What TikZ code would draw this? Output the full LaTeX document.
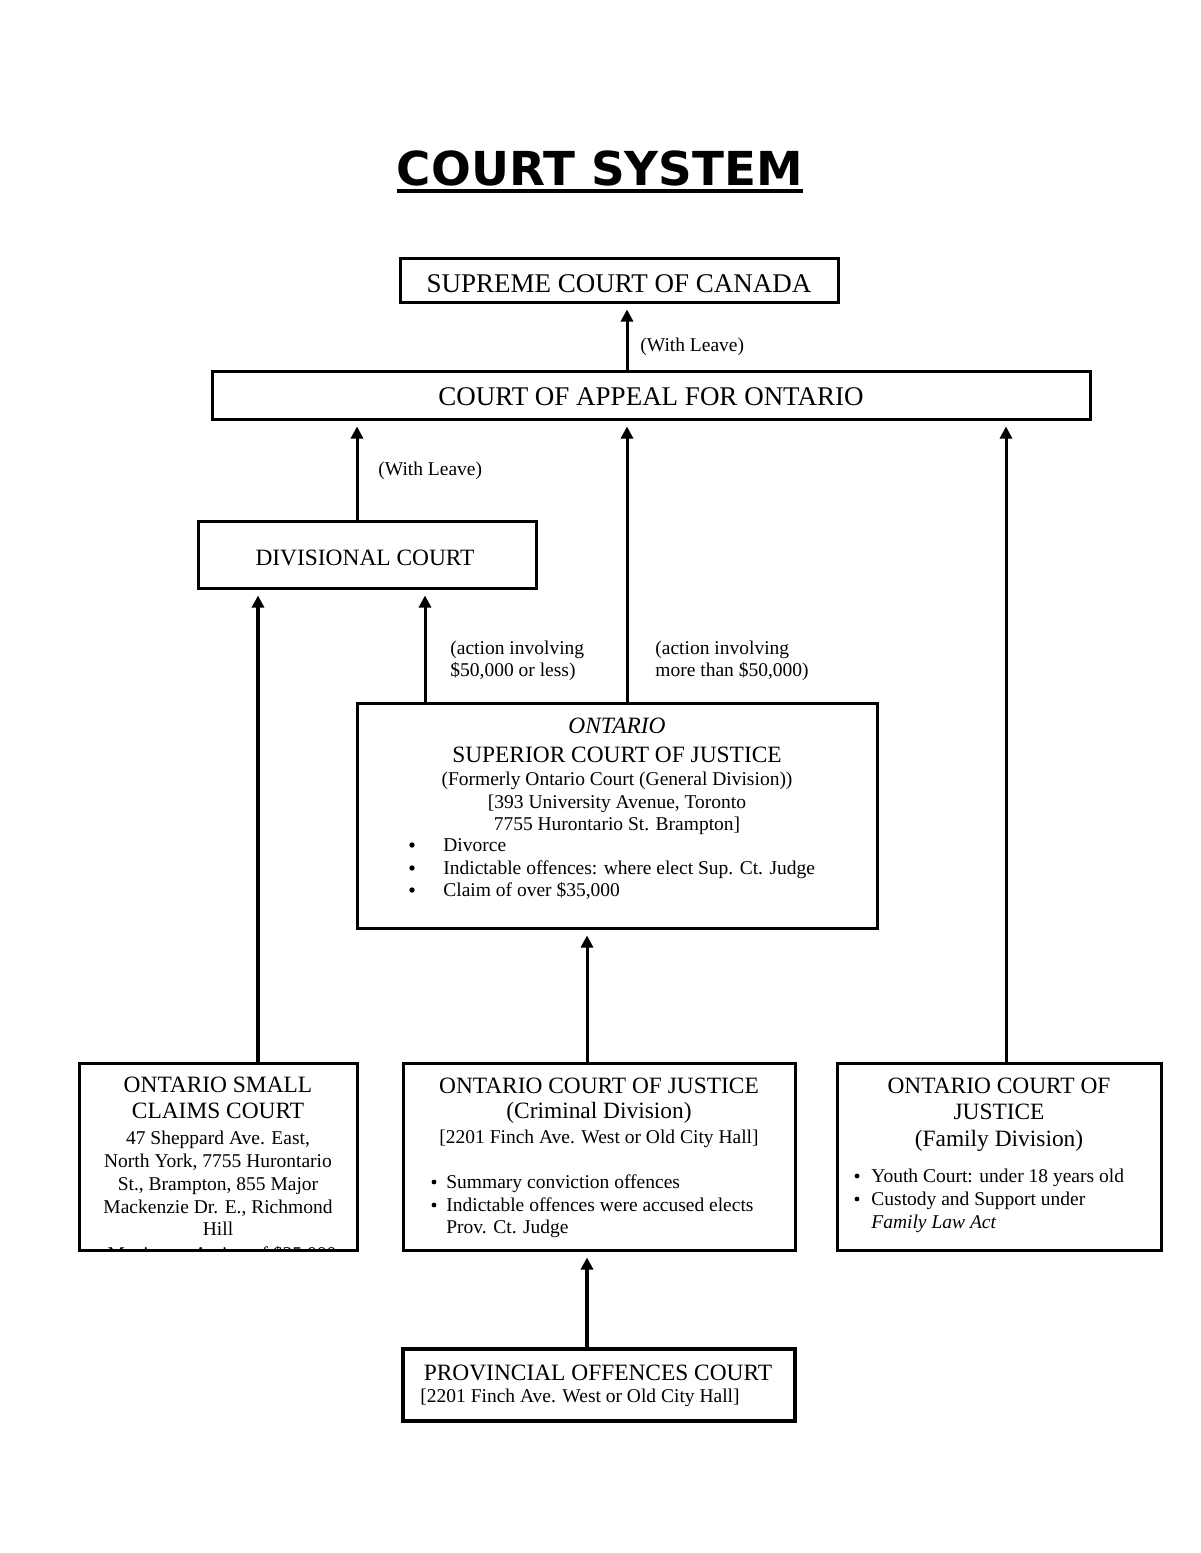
\documentclass[tikz,border=0pt]{standalone}
\usepackage{fontspec}
\setmainfont{Liberation Serif}
\newfontfamily\titlefont{DejaVu Sans}
\usetikzlibrary{arrows.meta,fit}
\begin{document}
\begin{tikzpicture}[x=0.5pt,y=-0.5pt,
  court/.style={draw, line width=1.5pt, inner sep=0pt},
  body/.style={inner sep=0pt, anchor=base, font=\fontsize{9.75}{12}\selectfont},
  bodyw/.style={body, anchor=base west},
  head/.style={inner sep=0pt, anchor=base, font=\fontsize{11.7}{14}\selectfont},
  big/.style={inner sep=0pt, anchor=base, font=\fontsize{13.5}{16}\selectfont},
  dot/.style={circle, fill, inner sep=0pt, minimum size=2.7pt},
  up/.style={-{Triangle[width=6pt,length=6pt]}, line width=1.5pt, shorten >=3pt},
  upthick/.style={up, line width=2pt}]
\useasboundingbox (0,0) rectangle (1200,1553);

% title
\node[inner sep=0pt, anchor=base, font=\titlefont\bfseries\fontsize{23.4}{28}\selectfont] (title) at (600,185) {COURT SYSTEM};
\draw[line width=1.6pt] ([yshift=-3pt]title.base west) -- ([yshift=-3pt]title.base east);

% boxes
\node[court, fit={(400,258)(838,302)}] (supreme) {};
\node[court, fit={(212,371)(1090,419)}] (appeal) {};
\node[court, fit={(198,521)(536,588)}] (div) {};
\node[court, fit={(357,703)(877,928)}] (sup) {};
\node[court, fit={(79,1063)(357,1250)}] (small) {};
\node[court, fit={(403,1063)(795,1250)}] (crim) {};
\node[court, fit={(837,1063)(1161,1250)}] (fam) {};
\node[court, fit={(403,1349)(795,1421)}, line width=2pt] (prov) {};

% box texts
\node[big] (supremeT) at (619,292) {SUPREME COURT OF CANADA};
\node[big] (appealT) at (651,405) {COURT OF APPEAL FOR ONTARIO};
\node[head] (divT) at (365,565) {DIVISIONAL COURT};

\node[head, font=\fontsize{11.7}{14}\selectfont\itshape] (supT1) at (617,733) {ONTARIO};
\node[head] (supT2) at (617,762) {SUPERIOR COURT OF JUSTICE};
\node[body] (supT3) at (617,785) {(Formerly Ontario Court (General Division))};
\node[body] (supT4) at (617,808) {[393 University Avenue, Toronto};
\node[body] (supT5) at (617,830) {7755 Hurontario St. Brampton]};
\node[dot] (supB1) at (412,845) {};
\node[bodyw] (supL1) at (443,851) {Divorce};
\node[dot] (supB2) at (412,868) {};
\node[bodyw] (supL2) at (443,874) {Indictable offences: where elect Sup. Ct. Judge};
\node[dot] (supB3) at (412,890) {};
\node[bodyw] (supL3) at (443,896) {Claim of over \$35,000};

\node[head] (smallT1) at (218,1092) {ONTARIO SMALL};
\node[head] (smallT2) at (218,1118) {CLAIMS COURT};
\node[body] (smallT3) at (218,1144) {47 Sheppard Ave. East,};
\node[body] (smallT4) at (218,1167) {North York, 7755 Hurontario};
\node[body] (smallT5) at (218,1190) {St., Brampton, 855 Major};
\node[body] (smallT6) at (218,1213) {Mackenzie Dr. E., Richmond};
\node[body] (smallT7) at (218,1235) {Hill};
\begin{scope}
  \clip (81,1065) rectangle (355,1248);
  \node[body] (smallT8) at (222,1260) {Maximum Action of \$25,000};
\end{scope}

\node[head] (crimT1) at (599,1093) {ONTARIO COURT OF JUSTICE};
\node[head] (crimT2) at (599,1118) {(Criminal Division)};
\node[body] (crimT3) at (599,1143) {[2201 Finch Ave. West or Old City Hall]};
\node[dot, minimum size=2.4pt] (crimB1) at (434,1182) {};
\node[bodyw] (crimL1) at (446,1188) {Summary conviction offences};
\node[dot, minimum size=2.4pt] (crimB2) at (434,1205) {};
\node[bodyw] (crimL2) at (446,1211) {Indictable offences were accused elects};
\node[bodyw] (crimL3) at (446,1233) {Prov. Ct. Judge};

\node[head] (famT1) at (999,1093) {ONTARIO COURT OF};
\node[head] (famT2) at (999,1119) {JUSTICE};
\node[head] (famT3) at (999,1146) {(Family Division)};
\node[dot, minimum size=2.4pt] (famB1) at (857,1176) {};
\node[bodyw] (famL1) at (871,1182) {Youth Court: under 18 years old};
\node[dot, minimum size=2.4pt] (famB2) at (857,1199) {};
\node[bodyw] (famL2) at (871,1205) {Custody and Support under};
\node[bodyw, font=\fontsize{9.75}{12}\selectfont\itshape] (famL3) at (871,1228) {Family Law Act};

\node[head] (provT1) at (598,1380) {PROVINCIAL OFFENCES COURT};
\node[bodyw] (provT2) at (420,1402) {[2201 Finch Ave. West or Old City Hall]};

% connector labels
\node[bodyw] (leave1) at (640,351) {(With Leave)};
\node[bodyw] (leave2) at (378,475) {(With Leave)};
\node[bodyw] (lessA) at (450,654) {(action involving};
\node[bodyw] (lessB) at (450,676) {\$50,000 or less)};
\node[bodyw] (moreA) at (655,654) {(action involving};
\node[bodyw] (moreB) at (655,676) {more than \$50,000)};

% x positions of connectors
\coordinate (x627) at (627,0);
\coordinate (x357) at (357,0);
\coordinate (x425) at (425,0);
\coordinate (x258) at (258,0);
\coordinate (x587) at (587,0);
\coordinate (x1006) at (1006,0);

% connectors
\draw[up] (appeal.north -| x627) -- (supreme.south -| x627);
\draw[up] (div.north -| x357) -- (appeal.south -| x357);
\draw[up] (sup.north -| x627) -- (appeal.south -| x627);
\draw[up] (fam.north -| x1006) -- (appeal.south -| x1006);
\draw[up] (sup.north -| x425) -- (div.south -| x425);
\draw[upthick] (small.north -| x258) -- (div.south -| x258);
\draw[up] (crim.north -| x587) -- (sup.south -| x587);
\draw[upthick] (prov.north -| x587) -- (crim.south -| x587);
\end{tikzpicture}
\end{document}
